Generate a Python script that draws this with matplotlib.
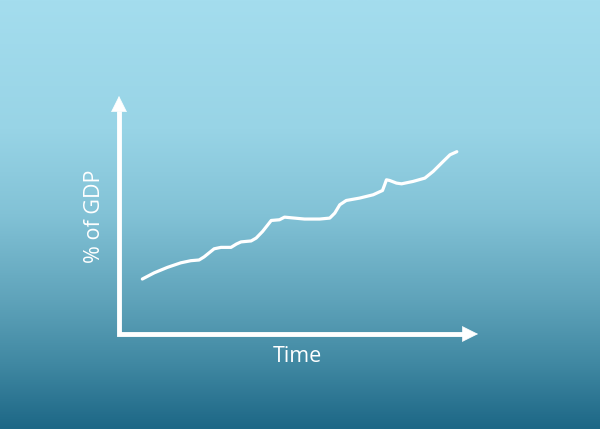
import numpy as np
import matplotlib
matplotlib.use("Agg")
import matplotlib.pyplot as plt
from matplotlib.colors import LinearSegmentedColormap
from matplotlib.patches import FancyArrowPatch

# schematic series, time index vs share of GDP
time = [6.5, 9.8, 13.5, 17.2, 20.0, 22.3, 23.7, 26.5, 28.4, 31.2, 32.7, 34.0,
        36.8, 38.2, 40.0, 42.4, 44.7, 46.1, 48.9, 51.7, 55.9, 58.7, 60.1, 61.5,
        63.3, 67.0, 70.8, 73.4, 74.0, 74.5, 75.4, 77.3, 78.7, 81.9, 85.2, 87.5,
        90.3, 92.2, 94.1]
pct_gdp = [23.1, 25.7, 28.0, 29.9, 30.8, 31.1, 32.4, 35.8, 36.4, 36.4, 37.8, 38.7,
           39.1, 40.3, 43.1, 47.7, 48.0, 49.1, 48.7, 48.3, 48.3, 48.7, 50.8, 54.3,
           56.1, 57.1, 58.5, 60.3, 62.7, 64.8, 64.5, 63.4, 63.1, 64.1, 65.5, 68.3,
           72.5, 75.3, 76.6]
x_label = "Time"
y_label = "% of GDP"

W, H = 600, 429
fig = plt.figure(figsize=(W / 100, H / 100), dpi=100)

# background gradient
bg = fig.add_axes([0, 0, 1, 1])
cmap = LinearSegmentedColormap.from_list("bg", [
    (0.0, "#a4ddee"), (0.3, "#98d4e6"), (0.5, "#82c2d6"),
    (0.7, "#5fa3ba"), (0.85, "#4088a2"), (1.0, "#1d6786")])
grad = np.linspace(0, 1, 256).reshape(-1, 1)
bg.imshow(grad, aspect="auto", cmap=cmap, extent=[0, 1, 0, 1], origin="upper")
bg.set_axis_off()

# main axes: origin at (119, 334) px, arrow tips at x=478, y=96
x0, y0, x1, y1 = 119, 334, 478, 96
ax = fig.add_axes([x0 / W, (H - y0) / H, (x1 - x0) / W, (y0 - y1) / H])
ax.patch.set_alpha(0)
ax.set_xlim(0, 100)
ax.set_ylim(0, 100)
ax.set_axis_off()

ax.plot(time, pct_gdp, color="white", lw=2.3, solid_capstyle="round",
        solid_joinstyle="round")

# L-shaped axis lines with arrow heads
head = 15.0  # px
hx = head / (x1 - x0)
hy = head / (y0 - y1)
ax.plot([0, 0, 1 - hx], [1 - hy, 0, 0], transform=ax.transAxes, color="white",
        lw=3.5, solid_joinstyle="miter", solid_capstyle="butt", clip_on=False)
for start, end in [((1 - hx - 0.01, 0), (1, 0)), ((0, 1 - hy - 0.01), (0, 1))]:
    ax.add_patch(FancyArrowPatch(start, end, transform=ax.transAxes,
                                 arrowstyle="-|>,head_length=10.8,head_width=5.4",
                                 mutation_scale=1, color="white", lw=0.4,
                                 shrinkA=0, shrinkB=0, clip_on=False))

fig.text(297 / W, (H - 357) / H, x_label, color="white", fontsize=15.5,
         family="Open Sans", ha="center", va="center")
fig.text(94 / W, (H - 216) / H, y_label, color="white", fontsize=15.5,
         family="Open Sans", ha="center", va="center", rotation=90)

fig.savefig("out.png", dpi=100)
